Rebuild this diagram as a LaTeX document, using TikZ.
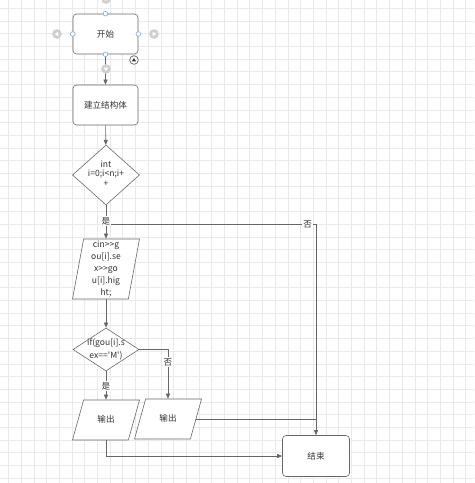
\documentclass[tikz,border=0pt]{standalone}
\usepackage{fontspec}
\newfontfamily\cjkfont{Noto Sans CJK SC}
\usepackage{xcolor}
\usetikzlibrary{arrows.meta,shapes.geometric,calc}
\definecolor{edgegray}{HTML}{666666}
\definecolor{inkgray}{HTML}{333333}
\definecolor{gridgray}{HTML}{EAEAEA}
\definecolor{handleblue}{HTML}{7AAAD8}
\definecolor{handlegray}{HTML}{CFCFCF}
% text that takes no room, so the shape keeps its minimum size
\newcommand{\flattext}[2]{%
  \raisebox{-1.8pt}[0pt][0pt]{\makebox[0pt]{\fontsize{7.3}{#1}\selectfont
    \begin{tabular}{@{}c@{}}#2\end{tabular}}}}

\begin{document}
\begin{tikzpicture}[
  x=0.03cm, y=-0.03cm,
  font=\cjkfont\fontsize{7.3}{10}\selectfont,
  every node/.style={align=center, text=inkgray},
  box/.style={draw=edgegray, fill=white, rounded corners=3pt, line width=0.5pt,
              minimum width=1.95cm, minimum height=1.2cm},
  decide/.style={diamond, draw=edgegray, fill=white, line width=0.5pt, inner sep=1pt},
  io/.style={trapezium, trapezium left angle=76, trapezium right angle=104,
             trapezium stretches=true, draw=edgegray, fill=white, line width=0.5pt,
             inner sep=1pt, minimum width=2.01cm},
  fl/.style={-{Triangle[length=1.5mm,width=1.2mm]}, draw=edgegray, line width=0.5pt},
  ln/.style={draw=edgegray, line width=0.5pt},
  lbl/.style={fill=white, inner sep=1pt},
]

% ---- canvas and grid ----
\useasboundingbox (0,0) rectangle (474,483);
\fill[white] (0,0) rectangle (474,483);
\foreach \g in {0,...,37}{
  \draw[gridgray, line width=0.4pt] (8.4+\g*12.7,0) -- (8.4+\g*12.7,483);
  \draw[gridgray, line width=0.4pt] (0,8.2+\g*12.7) -- (474,8.2+\g*12.7);
}

% ---- flow ----
\node[box] (start)  at (105.5,34)  {开始};
\node[box] (struct) at (105.5,105) {建立结构体};
\node[decide, minimum width=2.01cm, minimum height=1.8cm] (loop) at (106,175)
  {\flattext{8.2}{int\\i=0;i<n;i+\\+}};
\node[io, minimum height=1.8cm] (input) at (106,269)
  {\flattext{10.4}{cin>>g\\ou[i].se\\x>>go\\u[i].hig\\ht;}};
\node[decide, minimum width=1.98cm, minimum height=1.29cm] (sex) at (106,349.5)
  {\flattext{11}{if(gou[i].s\\ex=='M')}};
\node[io, minimum height=1.2cm] (out1) at (106,420) {\flattext{10}{输出}};
\node[io, minimum height=1.2cm] (out2) at (168,419) {\flattext{10}{输出}};
\node[box, minimum width=2.01cm, minimum height=1.23cm] (stop) at (316,456) {结束};

\foreach \a/\b in {start/struct, struct/loop, input/sex}
  \draw[fl] (\a) -- (\b);

\coordinate (fork) at (loop.south |- 0,224);
\draw[fl] (fork) -| node[lbl, pos=0.48] {否} (stop.north);
\draw[fl] (loop.south) -- node[lbl, pos=0.47] {是} (input.north);
\draw[fl] (sex.south) -- node[lbl, pos=0.52] {是} (out1.north);
\draw[fl] (sex.east) -| node[lbl, pos=0.63] {否} (out2.north);
\draw[fl] (out1.south) |- (stop.west);
\draw[ln] (out2.east) -- (out2.east -| stop.north);

% ---- selection handles on start ----
\foreach \hx/\hy/\rot in {57/34/180, 154/34/0, 106/69/-90, 106/-1/90}{
  \fill[handlegray] (\hx,\hy) circle[radius=0.145cm];
  \fill[white, shift={(\hx,\hy)}, rotate=\rot] (2.3,0) -- (-1.4,2.2) -- (-1.4,-2.2) -- cycle;
}
\foreach \a in {north,south,east,west}
  \draw[handleblue, fill=white, line width=0.5pt] (start.\a) circle[radius=0.07cm];
\draw[edgegray, fill=white, line width=0.6pt] (134,60) circle[radius=0.13cm];
\fill[inkgray, shift={(134,60)}] (0,-2) -- (2.1,1.4) -- (-2.1,1.4) -- cycle;

\end{tikzpicture}
\end{document}
